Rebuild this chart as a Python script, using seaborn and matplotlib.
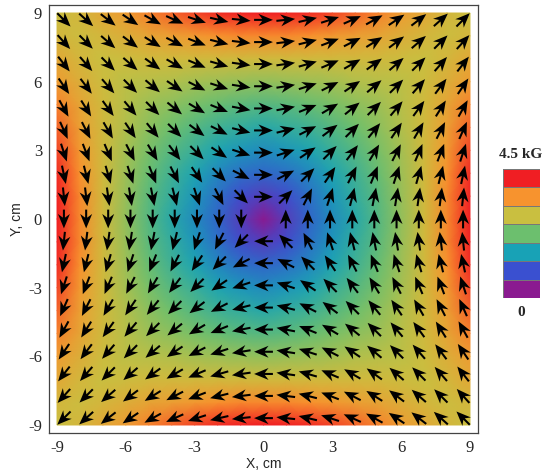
import numpy as np
import matplotlib
matplotlib.use('Agg')
import matplotlib.pyplot as plt
from matplotlib.colors import LinearSegmentedColormap, ListedColormap
import seaborn as sns

# field magnitude (kG), first quadrant, x and y = 0..9 cm step 1
# rows: y = 0..9, columns: x = 0..9
field_pos = [0, 1, 2, 3, 4, 5, 6, 7, 8, 9]
field_kG = [
    [0.00, 0.50, 0.95, 1.30, 1.65, 2.05, 2.55, 3.10, 3.80, 4.50],
    [0.50, 0.70, 1.05, 1.40, 1.75, 2.10, 2.60, 3.10, 3.80, 4.45],
    [0.95, 1.05, 1.25, 1.55, 1.85, 2.20, 2.65, 3.10, 3.75, 4.40],
    [1.30, 1.40, 1.55, 1.80, 2.05, 2.35, 2.70, 3.10, 3.65, 4.25],
    [1.65, 1.75, 1.85, 2.05, 2.25, 2.50, 2.80, 3.10, 3.55, 4.05],
    [2.05, 2.10, 2.20, 2.35, 2.50, 2.65, 2.85, 3.10, 3.45, 3.85],
    [2.55, 2.60, 2.65, 2.70, 2.80, 2.85, 2.90, 3.05, 3.30, 3.60],
    [3.10, 3.10, 3.10, 3.10, 3.10, 3.10, 3.05, 3.00, 3.15, 3.40],
    [3.80, 3.80, 3.75, 3.65, 3.55, 3.45, 3.30, 3.15, 3.05, 3.15],
    [4.50, 4.45, 4.40, 4.25, 4.05, 3.85, 3.60, 3.40, 3.15, 3.00],
]

# arrow grid (first quadrant) and arrow direction in degrees from +x axis
arrow_pos = [0.0, 0.97, 1.93, 2.9, 3.87, 4.83, 5.8, 6.77, 7.73, 8.7]
arrow_deg = [
    [0, 90, 90, 90, 90, 90, 90, 90, 90, 90],
    [0, 45, 63, 72, 76, 79, 81, 82, 83, 84],
    [0, 27, 45, 56, 63, 68, 72, 74, 76, 78],
    [0, 18, 34, 45, 53, 59, 63, 67, 69, 72],
    [0, 14, 27, 37, 45, 51, 56, 60, 63, 66],
    [0, 11, 22, 31, 39, 45, 50, 54, 58, 61],
    [0, 9, 18, 27, 34, 40, 45, 49, 53, 56],
    [0, 8, 16, 23, 30, 36, 41, 45, 49, 52],
    [0, 7, 14, 21, 27, 32, 37, 41, 45, 48],
    [0, 6, 13, 18, 24, 29, 34, 38, 42, 45],
]

legend_colors = ['#8a1a90', '#3a50d0', '#18a2b6', '#6cbf6e', '#c9bf40', '#f7932e', '#f01e23']
vmax = 4.5

sns.set_style('white')
plt.rcParams['font.family'] = ['Liberation Serif', 'DejaVu Serif']
plt.rcParams['axes.unicode_minus'] = False

# mirror the quadrant tables to the whole square
fp = np.array(field_pos, dtype=float)
full_pos = np.concatenate([-fp[:0:-1], fp])
idx = np.abs(np.arange(-9, 10))
mag = np.array(field_kG)[np.ix_(idx, idx)]
FX, FY = np.meshgrid(full_pos, full_pos)

ap = np.array(arrow_pos)
a_full = np.concatenate([-ap[:0:-1], ap])
AX, AY = np.meshgrid(a_full, a_full)
ang = np.deg2rad(np.array(arrow_deg, dtype=float))[np.ix_(idx, idx)]
sx = np.where(AX < 0, -1, 1)
sy = np.where(AY < 0, -1, 1)
U = sy * np.cos(ang)
V = sx * np.sin(ang)
keep = ~((AX == 0) & (AY == 0))

arrow_len = 0.82
cmap = LinearSegmentedColormap.from_list('field', legend_colors)

fig = plt.figure(figsize=(5.5, 4.75), dpi=100)
ax = fig.add_axes([49 / 550, 42 / 475, 429 / 550, 428 / 475])
ax.pcolormesh(FX, FY, mag, cmap=cmap, vmin=0, vmax=vmax, shading='gouraud')
ax.quiver(AX[keep], AY[keep], U[keep] * arrow_len, V[keep] * arrow_len,
          angles='xy', scale_units='xy', scale=1, units='xy', pivot='middle',
          width=0.09, headwidth=5.8, headlength=7.0, headaxislength=5.2,
          color='black', zorder=3)

ax.set_xlim(-9.35, 9.35)
ax.set_ylim(-9.35, 9.35)
ticks = [-9, -6, -3, 0, 3, 6, 9]
ax.set_xticks(ticks)
ax.set_yticks(ticks)
ax.set_xticklabels([str(t) for t in ticks])
ax.set_yticklabels([str(t) for t in ticks])
ax.tick_params(length=0, labelsize=12, pad=5)
for s in ax.spines.values():
    s.set_color('#444444')
    s.set_linewidth(0.9)
ax.set_xlabel('X, cm', family='Liberation Sans', fontsize=10, labelpad=1)
ax.set_ylabel('Y, cm', family='Liberation Sans', fontsize=10, labelpad=3)

# discrete legend swatches
cax = fig.add_axes([503 / 550, 177 / 475, 37 / 550, 129 / 475])
sw = np.arange(len(legend_colors))[::-1].reshape(-1, 1)
sns.heatmap(sw, ax=cax, cmap=ListedColormap(legend_colors), cbar=False,
            linewidths=0.6, linecolor='#777777', xticklabels=False, yticklabels=False)
fig.text(521 / 550, 1 - 155 / 475, '4.5 kG', ha='center', va='center',
         fontsize=11, fontweight='bold')
fig.text(521 / 550, 1 - 313 / 475, '0', ha='center', va='center',
         fontsize=11, fontweight='bold')

fig.savefig('out.png', dpi=100)
